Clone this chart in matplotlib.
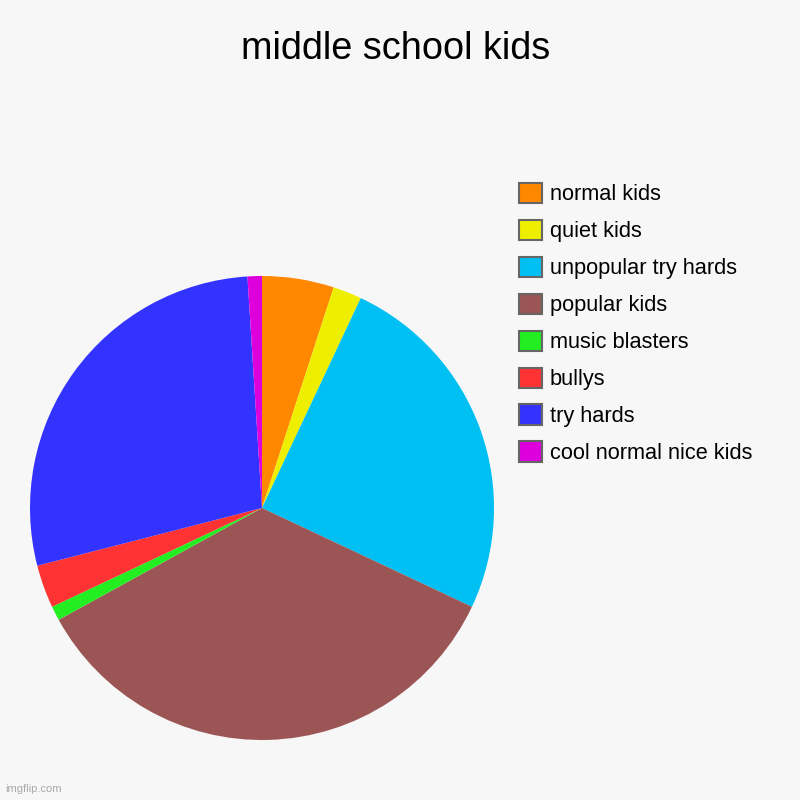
import matplotlib.pyplot as plt
import matplotlib.patches as mpatches

plt.rcParams['font.family'] = ['Liberation Sans', 'DejaVu Sans']

labels = ['normal kids', 'quiet kids', 'unpopular try hards', 'popular kids',
          'music blasters', 'bullys', 'try hards', 'cool normal nice kids']
values = [5, 2, 25, 35, 1, 3, 28, 1]
colors = ['#FF8800', '#EEEE00', '#00BFF3', '#9B5555',
          '#22EE22', '#FF3333', '#3333FF', '#DD00DD']

fig = plt.figure(figsize=(8, 8), dpi=100, facecolor='#F7F7F7')
ax = fig.add_axes([0.0375, 0.075, 0.58, 0.58])
ax.set_facecolor('#F7F7F7')
ax.pie(values, colors=colors, startangle=90, counterclock=False,
       radius=1, wedgeprops={'linewidth': 0})
ax.set_xlim(-1, 1)
ax.set_ylim(-1, 1)
ax.set_aspect('equal')
ax.axis('off')

fig.text(0.494, 0.939, 'middle school kids', ha='center', va='center',
         fontsize=27.3, color='#000000')

handles = [mpatches.Patch(facecolor=c, edgecolor='#666666', linewidth=1.5)
           for c in colors]
fig.legend(handles, labels, loc='upper left', bbox_to_anchor=(0.649, 0.7715),
           frameon=False, fontsize=15.7, handlelength=1.05, handleheight=1.05,
           handletextpad=0.35, labelspacing=0.66, borderpad=0, borderaxespad=0)

fig.text(0.006, 0.01, 'imgflip.com', fontsize=8, color='#AAAAAA')

fig.savefig('out.png', dpi=100, facecolor=fig.get_facecolor())
